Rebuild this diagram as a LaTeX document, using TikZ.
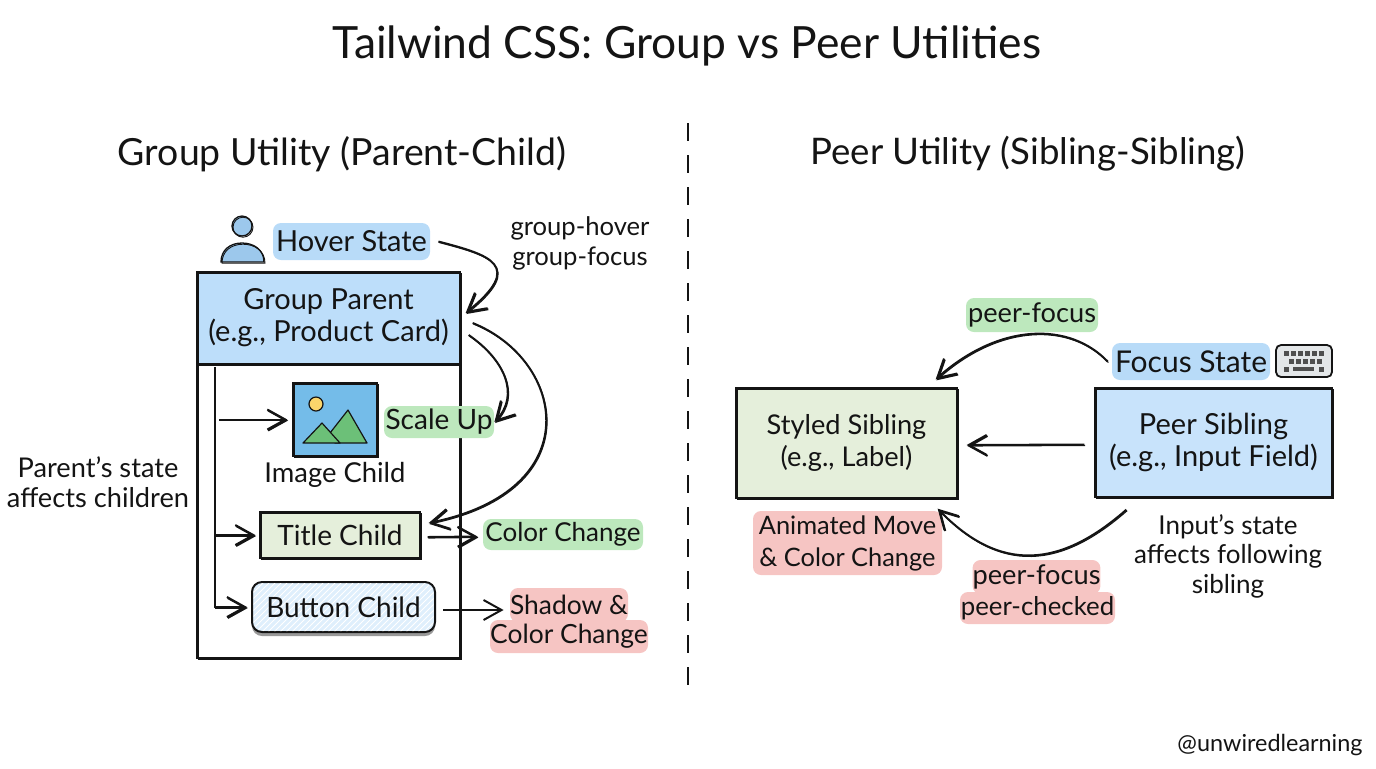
\documentclass[tikz,border=0pt]{standalone}
\usepackage{fontspec}
\setmainfont{Lato}
\usetikzlibrary{arrows.meta,patterns,shadows,calc}
\definecolor{inkc}{HTML}{141414}
\definecolor{pillblue}{HTML}{B8DBF8}
\definecolor{pillgreen}{HTML}{BDE8BD}
\definecolor{pillred}{HTML}{F6C5C3}
\definecolor{parentblue}{HTML}{BDDEFA}
\definecolor{peerblue}{HTML}{C8E3FB}
\definecolor{sage}{HTML}{E5EFDB}
\definecolor{imgblue}{HTML}{74BCE9}
\definecolor{iconblue}{HTML}{9CC8EC}
\definecolor{mount}{HTML}{6CC078}
\definecolor{sun}{HTML}{FBD56B}
\definecolor{keyg}{HTML}{E3E6E8}
\tikzset{
  every node/.style={text=inkc,align=center,inner sep=0pt},
  sk/.style={draw=inkc,line width=.65pt,postaction={draw=inkc,line width=.45pt,transform canvas={shift={(.5pt,-.6pt)}}}},
  pill/.style={fill=#1,rounded corners=4pt},
  lab/.style={font=\fontsize{#1}{16}\selectfont},
  lab/.default=14.5,
  head/.style={font=\fontsize{18.3}{22}\selectfont},
  ttl/.style={font=\fontsize{22.2}{26}\selectfont},
  arr/.style={draw=inkc,line width=1pt,-{Straight Barb[length=9pt,width=10pt,line width=1pt]}},
  arrd/.style={arr,postaction={draw=inkc,line width=.55pt,transform canvas={shift={(.4pt,-.5pt)}}}}
}
% box from pixel corners: [options]{name}{x1}{y1}{x2}{y2}{text}
\newcommand\bx[7][]{\node[minimum width={(#5-#3)*0.5pt},minimum height={(#6-#4)*0.5pt},#1] (#2) at ({(#3+#5)/2},{(#4+#6)/2}) {#7};}
\begin{document}
\begin{tikzpicture}[x=0.5pt,y=-0.5pt]
\useasboundingbox (0,0) rectangle (1376,768);
% titles
\node[ttl] (title) at (687,46) {Tailwind CSS: Group vs Peer Utilities};
\node[head,font=\fontsize{18.7}{22}\selectfont] (lefthead) at (342,154) {Group Utility (Parent-Child)};
\node[head] (righthead) at (1028,154) {Peer Utility (Sibling-Sibling)};
\coordinate (divtop) at (688,123);
\coordinate (divbot) at (688,690);
\draw[inkc,line width=.9pt,dash pattern=on 9pt off 7pt] (divtop) -- (divbot);
% left: card
\bx[sk]{card}{197}{272}{460}{658}{}
\bx[sk,fill=parentblue,lab]{parent}{197}{272}{460}{364}{Group Parent\\(e.g., Product Card)}
% person icon
\draw[sk,fill=iconblue] (221,262) .. controls (221,250) and (230,243) .. (242,243) .. controls (254,243) and (264,250) .. (264,262) -- cycle;
\node[sk,fill=iconblue,circle,minimum size=10pt] (personhead) at (242,226) {};
\bx[pill=pillblue,lab]{hover}{273}{223}{430}{260}{Hover State}
\node[lab=12.8] (gh) at (580,228) {group-hover};
\node[lab=12.8] (gf) at (580,259) {group-focus};
% image
\bx[sk,fill=imgblue]{img}{293}{383}{377}{456}{}
\node[draw=inkc,line width=.6pt,fill=sun,circle,minimum size=7pt] (imgsun) at (316,404) {};
\draw[inkc,line width=.6pt,fill=mount,line join=round] (330,433) -- (348,410) -- (367,443) -- (335,443) -- cycle;
\draw[inkc,line width=.6pt,fill=mount,line join=round] (303,443) -- (322,423) -- (340,443) -- cycle;
\node[lab=13.7] (imgl) at (335,475) {Image Child};
\bx[pill=pillgreen,lab=14]{scale}{384}{406}{494}{438}{Scale Up}
\bx[sk,fill=sage,lab=14]{tchild}{260}{512}{420}{558}{Title Child}
\bx[pill=pillgreen,lab=13]{colorc}{483}{519}{643}{550}{Color Change}
\node[minimum width=91.5pt,minimum height=25pt,rounded corners=5pt,
  draw=inkc,line width=1pt,fill=pillblue!45!white,
  drop shadow={shadow xshift=0pt,shadow yshift=-2pt,opacity=.4,fill=black}] (bchild) at (343.5,607) {};
\node[minimum width=90pt,minimum height=24pt,rounded corners=5pt,
  pattern=north east lines,pattern color=white] (bhatch) at (343.5,607) {};
\node[lab=14] (blabel) at (343.5,607) {Button Child};
\bx[pill=pillred,lab=13.2]{sha}{510}{588}{628}{622}{Shadow \&}
\bx[pill=pillred,lab=13.2]{shb}{490}{620}{648}{653}{Color Change}
\node[font=\fontsize{13.6}{15}\selectfont] (parl) at (98,482) {Parent's state\\affects children};
% left connectors
\coordinate (trunk) at (215,367);
\draw[arrd] (trunk) |- ([xshift=-2pt]bchild.west);
\draw[arrd] ([xshift=2pt]trunk|-img.west) -- ([xshift=-2.5pt]img.west);
\draw[arrd] (trunk|-tchild.west) -- ([xshift=-2pt]tchild.west);
\draw[arrd] ([xshift=4pt]hover.east) .. controls (490,255) and (525,265) .. ([xshift=2.5pt,yshift=2.5pt]parent.east);
\draw[arrd] ([xshift=4pt,yshift=-8.5pt]parent.east) .. controls (505,360) and (520,395) .. (scale.east);
\draw[arrd] ([xshift=6pt,yshift=-2.5pt]parent.east) .. controls (565,360) and (590,490) .. ([xshift=4pt,yshift=6pt]tchild.east);
\draw[arrd] ([xshift=3.5pt,yshift=-1pt]tchild.east) -- ([xshift=-2.5pt,yshift=-1pt]colorc.west);
\draw[arr] ([xshift=3.5pt,yshift=-1.5pt]bchild.east) -- ([xshift=-3pt,yshift=-2.5pt]sha.west);
% right
\bx[sk,fill=sage,lab=13.6]{styled}{736}{388}{957}{498}{Styled Sibling\\(e.g., Label)}
\bx[sk,fill=peerblue,lab]{peer}{1095}{388}{1332}{497}{Peer Sibling\\(e.g., Input Field)}
\bx[pill=pillgreen,lab=13.6]{pf}{966}{298}{1098}{332}{peer-focus}
\bx[pill=pillblue,lab=15]{focus}{1112}{343}{1270}{380}{Focus State}
% keyboard
\bx[draw=inkc,line width=.9pt,fill=keyg,rounded corners=2.5pt]{kbd}{1276}{345}{1332}{377}{}
\foreach \kx in {1284,1291,1298,1305,1312,1319}{\fill[inkc!75] (\kx,351) rectangle +(4.5,4.5);}
\foreach \kx in {1289,1296,1303,1310,1317}{\fill[inkc!75] (\kx,359) rectangle +(4.5,4.5);}
\fill[inkc!75] (1284,367) rectangle +(4.5,4.5);
\fill[inkc!75] (1293,367) rectangle +(21,4);
\fill[inkc!75] (1319,367) rectangle +(4.5,4.5);
\bx[pill=pillred,lab=12.7]{anim}{753}{511}{942}{575}{Animated Move\\\& Color Change}
\bx[pill=pillred,lab=13.6]{pfb}{973}{560}{1100}{594}{peer-focus}
\bx[pill=pillred,lab=12.9]{pc}{960}{592}{1115}{624}{peer-checked}
\node[font=\fontsize{13}{14.75}\selectfont] (inp) at (1228,556) {Input's state\\affects following\\sibling};
\node[font=\fontsize{11.7}{14}\selectfont] (handle) at (1270,745) {@unwiredlearning};
% right connectors
\draw[arrd] ([xshift=-2pt]focus.west) .. controls (1070,322) and (1000,322) .. ([xshift=-11pt,yshift=4pt]styled.north east);
\draw[arrd] ([xshift=-5pt,yshift=-1pt]peer.west) -- ([xshift=4.5pt,yshift=-1pt]styled.east);
\draw[arrd] ([xshift=16pt,yshift=-6pt]peer.south west) .. controls (1060,568) and (1000,573) .. ([xshift=-10pt,yshift=-5pt]styled.south east);
\end{tikzpicture}
\end{document}
